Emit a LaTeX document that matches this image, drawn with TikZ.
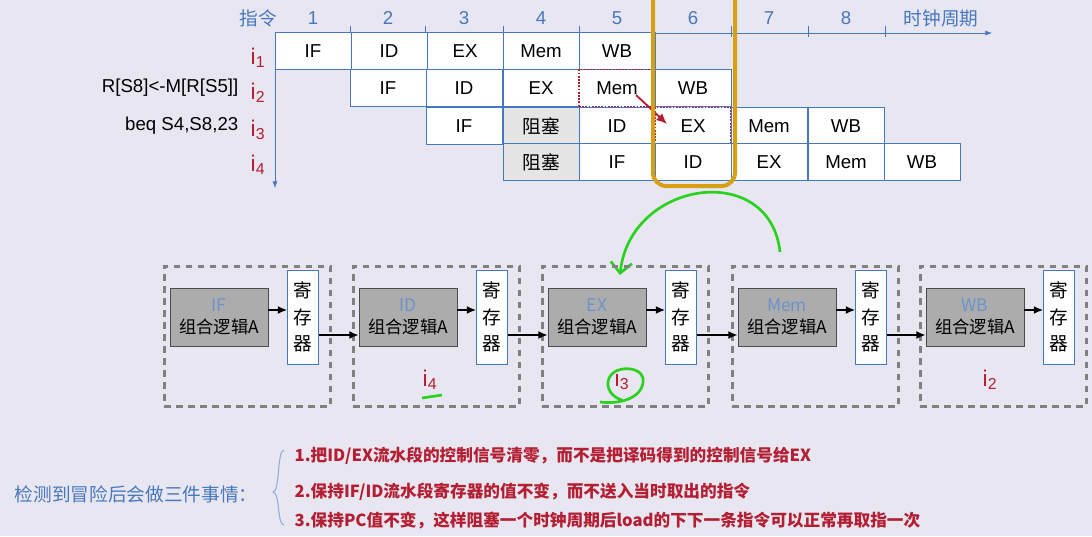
\documentclass[tikz,border=0pt]{standalone}
\usepackage{fontspec}
\setmainfont{Liberation Sans}
\newfontfamily\cjk{Noto Sans CJK SC}
\usetikzlibrary{arrows.meta,positioning}
\definecolor{bg}{RGB}{232,230,240}
\definecolor{ax}{RGB}{70,120,190}
\definecolor{ired}{RGB}{180,30,50}
\definecolor{gold}{RGB}{215,160,20}
\definecolor{gr}{RGB}{40,210,30}
\begin{document}
\begin{tikzpicture}[x=0.75pt,y=-0.75pt,
 cell/.style={draw=ax,fill=white,minimum width=76*0.75pt,minimum height=37*0.75pt,inner sep=0,font=\fontsize{14}{14}\selectfont},
 stall/.style={cell,fill=gray!20,font=\cjk\fontsize{14}{14}\selectfont},
 hz/.style={cell,draw=ired,densely dotted,line width=1.4pt},
 il/.style={text=ired,font=\fontsize{17}{17}\selectfont},
 num/.style={text=ax,font=\fontsize{14}{14}\selectfont},
 stage/.style={draw=gray,dashed,line width=2.2pt,dash pattern=on 5pt off 4pt,minimum width=166*0.75pt,minimum height=140*0.75pt},
 logic/.style={draw=black!70,fill=gray!65,minimum width=98*0.75pt,minimum height=58*0.75pt,align=center,inner sep=0,font=\cjk\fontsize{13}{17}\selectfont},
 reg/.style={draw=ax,fill=white,minimum width=31*0.75pt,minimum height=94*0.75pt,align=center,inner sep=0,font=\cjk\fontsize{14}{20}\selectfont},
 arr/.style={-{Latex[length=7pt,width=6pt]},line width=1.3pt},
 item/.style={anchor=west,text=ired,font=\cjk\bfseries\fontsize{12.5}{13}\selectfont}]
\useasboundingbox (0,0) rectangle (1092,536);
\fill[bg] (0,0) rectangle (1092,536);
% axes
\draw[ax,-{Latex[length=5pt]}] (275,33) -- (992,33);
\draw[ax,-{Latex[length=5pt]}] (275,33) -- (275,188);
\foreach \x in {350,425,503,579,731,808,885} \draw[ax] (\x,26) -- (\x,37);
\foreach \i/\x in {1/313,2/388,3/464,4/541,5/617,6/693,7/769,8/846} \node[num] (n\i) at (\x,18) {\i};
\node[num,font=\cjk\fontsize{14}{14}\selectfont] (zl) at (258,18) {指令};
\node[num,font=\cjk\fontsize{14}{14}\selectfont] (clk) at (941,18) {时钟周期};
% rows
\foreach \t [count=\k] in {IF,ID,EX,Mem,WB} \node[cell] (a\k) at ({275+76*(\k-1)+38},51) {\t};
\node[cell] (b1) at (388,88) {IF};
\node[cell] (b2) at (464,88) {ID};
\node[cell] (b3) at (541,88) {EX};
\node[hz] (b4) at (617,88) {Mem};
\node[cell] (b5) at (693,88) {WB};
\node[cell] (c1) at (464,126) {IF};
\node[stall] (c2) at (541,126) {阻塞};
\node[cell] (c3) at (617,126) {ID};
\node[hz] (c4) at (693,126) {EX};
\node[cell] (c5) at (769,126) {Mem};
\node[cell] (c6) at (846,126) {WB};
\node[stall] (d1) at (541,162) {阻塞};
\node[cell] (d2) at (617,162) {IF};
\node[cell] (d3) at (693,162) {ID};
\node[cell] (d4) at (769,162) {EX};
\node[cell] (d5) at (846,162) {Mem};
\node[cell] (d6) at (922,162) {WB};
\coordinate (hs) at (636,95);
\coordinate (he) at (667,124);
\draw[ired,line width=1.4pt,-{Latex[length=8pt,width=7pt]}] (hs) -- (he);
% labels
\node[il] (i1) at (258,58) {i\textsubscript{1}};
\node[il] (i2) at (258,93) {i\textsubscript{2}};
\node[il] (i3) at (258,130) {i\textsubscript{3}};
\node[il] (i4) at (258,165) {i\textsubscript{4}};
\node[anchor=east,font=\fontsize{14}{14}\selectfont] (t2) at (243,88) {R[S8]<-M[R[S5]]};
\node[anchor=east,font=\fontsize{14}{14}\selectfont] (t3) at (243,126) {beq S4,S8,23};
% gold highlight
\draw[gold,line width=3pt,rounded corners=10pt] (653,-5) -- (653,186) -- (735,186) -- (735,-5);
% green curve
\coordinate (g1) at (780,252);
\coordinate (g2) at (620,275);
\draw[gr,line width=2pt,-{Straight Barb[length=8pt]}] (g1) .. controls (770,160) and (630,180) .. (g2);
% stages
\foreach \n/\x/\t in {1/163/IF,2/352/ID,3/541/EX,4/731/Mem,5/919/WB} {
 \node[stage,anchor=north west] (s\n) at (\x,265) {};
 \node[logic] (l\n) at (\x+56,317) {\textcolor{ax!80}{\t}\\组合逻辑A};
 \node[reg] (r\n) at (\x+140,317) {寄\\存\\器};
 \draw[arr] (l\n.east |- 0,310) -- (r\n.west |- 0,310);
}
\foreach \a/\b in {1/2,2/3,3/4,4/5} \draw[arr] (r\a.east |- 0,335) -- (l\b.west |- 0,335);
\node[il] (j4) at (430,380) {i\textsubscript{4}};
\node[il] (j3) at (622,380) {i\textsubscript{3}};
\node[il] (j2) at (990,380) {i\textsubscript{2}};
\draw[gr,line width=2pt] (422,398) -- (442,395);
\draw[gr,line width=2pt] (600,402) .. controls (625,405) and (645,395) .. (643,378) .. controls (640,365) and (610,365) .. (608,382) .. controls (607,392) and (615,398) .. (622,400);
% bottom text
\node[anchor=west,text=ax,font=\cjk\fontsize{14}{14}\selectfont] (h) at (10,494) {检测到冒险后会做三件事情：};
\draw[ax!60,thick] (284,450) .. controls (277,450) and (280,492) .. (273,492) .. controls (280,492) and (277,525) .. (284,525);
\node[item] (m1) at (290,456) {1.把ID/EX流水段的控制信号清零，而不是把译码得到的控制信号给EX};
\node[item] (m2) at (290,492) {2.保持IF/ID流水段寄存器的值不变，而不送入当时取出的指令};
\node[item] (m3) at (290,521) {3.保持PC值不变，这样阻塞一个时钟周期后load的下下一条指令可以正常再取指一次};
\end{tikzpicture}
\end{document}
